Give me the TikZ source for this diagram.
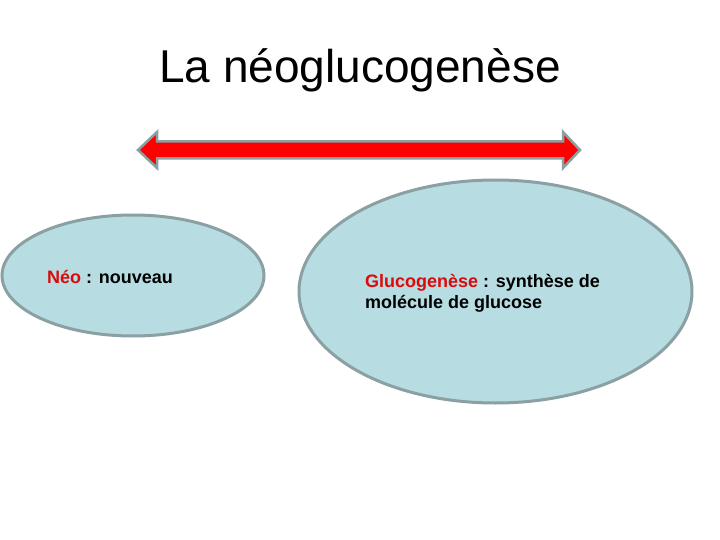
\documentclass[tikz,border=0pt]{standalone}
\usepackage{fontspec}
\setmainfont{Liberation Sans}
\usepackage{tikz}
\usetikzlibrary{shapes,calc}

\definecolor{bulle}{RGB}{183,221,226}
\definecolor{bord}{RGB}{138,160,163}
\definecolor{rouge}{RGB}{255,0,0}
\definecolor{motrouge}{RGB}{220,10,10}

\begin{document}
\begin{tikzpicture}[x=1pt,y=-1pt]
			\tikzstyle{every node}=[font=\bfseries\fontsize{18}{21}\selectfont]
			\tikzstyle{bulle}=[ellipse, draw=bord, line width=3pt, fill=bulle, inner sep=0pt]
			\useasboundingbox (0,0) rectangle (720,540);
			
			% titre
			\node[anchor=base, font=\fontsize{46}{54}\selectfont] (titre) at (360,83) {La néoglucogenèse};
			
			% fleche double
			\draw[line width=2.5pt, draw=bord, fill=rouge, line join=miter]
			(138,150) -- (157,132) -- (157,141.5) -- (563,141.5) -- (563,132) -- (580,150)
			-- (563,168) -- (563,158.5) -- (157,158.5) -- (157,168) -- cycle;
			
			% les deux bulles
			\node[bulle, minimum width=262pt, minimum height=121pt] (neo) at (133,275.5) {};
			\node[bulle, minimum width=393pt, minimum height=223pt] (gluco) at (495.5,291.5) {};
			
			\node[anchor=base west, inner sep=0pt] (neotxt) at (47,283) {\textcolor{motrouge}{Néo} : nouveau};
			\node[anchor=base west, inner sep=0pt, align=left] (glucotxt) at (365,308)
			{\textcolor{motrouge}{Glucogenèse} : synthèse de\\molécule de glucose};
			%\node at (495,340) {};
			
\end{tikzpicture}
\end{document}
